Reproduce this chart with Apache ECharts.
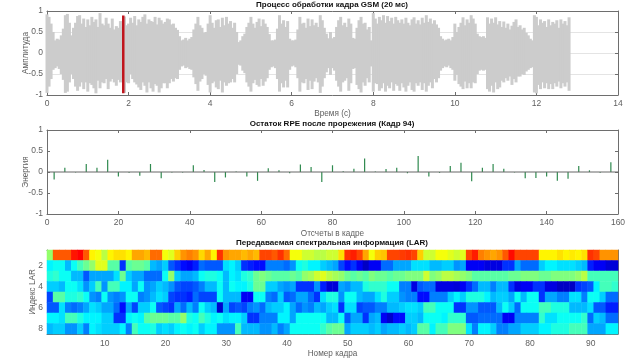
<!DOCTYPE html>
<html>
<head>
<meta charset="utf-8">
<title>GSM</title>
<script src="https://cdn.jsdelivr.net/npm/echarts@6/dist/echarts.min.js"></script>
<style>
html, body { margin: 0; padding: 0; background: #fff; }
#main { width: 640px; height: 360px; }
</style>
</head>
<body>
<div id="main"></div>
<script>
// speech envelope, one reading per 0.05 s
var envStep = 0.05;
var envUpper = [
    0.92,0.86,0.7,0.5,0.3,0.34,0.32,0.42,0.58,0.9,0.93,0.72,0.42,0.6,0.72,0.88,0.9,0.7,0.82,0.62,
    0.8,0.66,0.86,0.74,0.8,0.62,0.95,0.7,0.66,0.84,0.7,0.6,0.82,0.56,0.64,0.6,0.76,0.62,0.87,0.66,
    0.7,0.84,0.72,0.88,0.66,0.8,0.74,0.86,0.92,0.7,0.8,0.76,0.74,0.86,0.68,0.84,0.78,0.7,0.74,0.82,
    0.8,0.68,0.7,0.6,0.55,0.4,0.3,0.32,0.36,0.3,0.34,0.38,0.56,0.7,0.86,0.66,0.6,0.48,0.5,0.7,
    0.9,0.72,0.6,0.78,0.8,0.62,0.84,0.66,0.86,0.7,0.76,0.6,0.72,0.5,0.26,0.3,0.4,0.46,0.62,0.72,
    0.86,0.7,0.6,0.74,0.82,0.64,0.8,0.7,0.62,0.45,0.3,0.3,0.32,0.58,0.9,0.7,0.78,0.62,0.76,0.34,
    0.3,0.3,0.32,0.56,0.86,0.7,0.72,0.6,0.82,0.64,0.8,0.66,0.72,0.62,0.9,0.78,0.6,0.46,0.35,0.5,
    0.35,0.38,0.62,0.78,0.86,0.66,0.72,0.62,0.82,0.7,0.36,0.34,0.6,0.78,0.86,0.7,0.72,0.56,0.62,0.3,
    0.95,0.82,0.7,0.86,0.78,0.9,0.72,0.88,0.76,0.84,0.7,0.86,0.78,0.72,0.8,0.7,0.84,0.72,0.66,0.8,
    0.85,0.7,0.78,0.68,0.84,0.72,0.9,0.74,0.82,0.7,0.78,0.68,0.6,0.4,0.34,0.3,0.32,0.34,0.3,0.38,
    0.7,0.5,0.62,0.72,0.85,0.66,0.8,0.72,0.9,0.82,0.7,0.46,0.4,0.38,0.4,0.36,0.85,0.7,0.82,0.72,
    0.85,0.68,0.76,0.62,0.75,0.6,0.7,0.56,0.65,0.74,0.8,0.62,0.66,0.56,0.6,0.48,0.42,0.34,0.3,0.9,
    0.86,0.66,0.8,0.72,0.76,0.62,0.8,0.66,0.74,0.7,0.78,0.6,0.8,0.7,0.76,0.66,0.85
];
var envLower = [
    -0.95,-0.8,-0.62,-0.4,-0.36,-0.32,-0.38,-0.5,-0.64,-0.95,-0.92,-0.7,-0.5,-0.62,-0.8,-0.9,-0.8,-0.7,-0.86,-0.7,
    -0.92,-0.72,-0.76,-0.84,-0.96,-0.66,-0.84,-0.7,-0.72,-0.62,-0.86,-0.68,-0.62,-0.7,-0.78,-0.64,-0.7,-0.6,-0.95,-0.7,
    -0.72,-0.5,-0.62,-0.7,-0.75,-0.82,-0.88,-0.7,-0.78,-0.94,-0.7,-0.84,-0.92,-0.74,-0.78,-0.94,-0.84,-0.72,-0.72,-0.84,
    -0.72,-0.62,-0.68,-0.6,-0.62,-0.4,-0.32,-0.3,-0.36,-0.34,-0.38,-0.4,-0.58,-0.74,-0.9,-0.68,-0.62,-0.5,-0.54,-0.76,
    -0.94,-0.72,-0.68,-0.82,-0.86,-0.66,-0.94,-0.7,-0.78,-0.72,-0.7,-0.62,-0.7,-0.5,-0.28,-0.3,-0.42,-0.48,-0.7,-0.8,
    -0.92,-0.72,-0.64,-0.76,-0.8,-0.62,-0.78,-0.68,-0.6,-0.4,-0.34,-0.32,-0.36,-0.62,-0.92,-0.72,-0.82,-0.66,-0.82,-0.4,
    -0.32,-0.3,-0.34,-0.6,-0.92,-0.7,-0.72,-0.62,-0.88,-0.66,-0.86,-0.68,-0.6,-0.7,-0.95,-0.8,-0.6,-0.46,-0.36,-0.52,
    -0.36,-0.42,-0.66,-0.8,-0.92,-0.7,-0.66,-0.6,-0.9,-0.72,-0.38,-0.36,-0.76,-0.86,-0.94,-0.7,-0.78,-0.6,-0.7,-0.32,
    -0.92,-0.72,-0.74,-0.9,-0.84,-0.72,-0.92,-0.78,-0.84,-0.7,-0.9,-0.74,-0.78,-0.9,-0.72,-0.82,-0.92,-0.78,-0.7,-0.88,
    -0.92,-0.72,-0.78,-0.7,-0.88,-0.72,-0.92,-0.78,-0.7,-0.84,-0.62,-0.7,-0.6,-0.42,-0.36,-0.32,-0.34,-0.3,-0.36,-0.4,
    -0.66,-0.52,-0.74,-0.8,-0.86,-0.68,-0.84,-0.72,-0.84,-0.7,-0.72,-0.5,-0.42,-0.4,-0.42,-0.4,-0.86,-0.92,-0.78,-0.94,
    -0.7,-0.86,-0.82,-0.66,-0.7,-0.6,-0.66,-0.56,-0.76,-0.62,-0.7,-0.56,-0.56,-0.5,-0.52,-0.44,-0.4,-0.36,-0.34,-0.94,
    -0.96,-0.76,-0.86,-0.7,-0.84,-0.72,-0.86,-0.74,-0.86,-0.72,-0.8,-0.68,-0.84,-0.72,-0.8,-0.7,-0.9
];

// current frame marker
var frameX = [1.87, 1.87];
var frameY = [-0.96, 0.89];

// RPE pulses
var rpePos = [2,5,8,11,14,17,20,23,26,29,32,35,38,41,44,47,50,53,56,59,62,65,68,71,74,77,80,83,86,89,92,95,98,101,104,107,110,113,116,119,122,125,128,131,134,137,140,143,146,149,152,155,158];
var rpeVal = [-0.18,0.1,-0.01,0.19,0.1,0.29,-0.11,-0.02,-0.09,0.19,-0.15,-0.01,-0.01,0.16,0.05,-0.24,-0.13,0.01,-0.11,-0.21,0.09,0.04,-0.03,0.18,0.12,-0.24,0.16,0.02,0.08,0.32,0.01,0.07,0.1,-0.03,0.38,-0.11,-0.02,0.14,0.22,-0.22,0.1,0.19,0.08,-0.01,-0.15,-0.14,-0.11,-0.21,-0.16,0.14,0.04,-0.02,0.23];

// LAR rows, 94 frames each, on a 0-100 colour scale
var lar1 = [50,78,78,78,85,87,78,62,60,54,62,64,64,62,70,70,68,76,76,60,58,66,72,74,72,65,70,62,82,72,70,70,68,70,68,80,80,78,82,76,60,60,56,56,54,54,56,56,64,82,84,80,70,60,66,67,80,80,81,82,80,66,56,56,60,60,58,56,58,80,84,74,72,70,72,78,86,80,80,80,80,62,62,62,64,62,63,62,64,82,80,72,72,72];
var lar2 = [34,36,36,28,36,42,46,50,58,58,44,44,14,44,46,46,44,28,26,30,18,14,10,8,12,20,18,18,18,32,34,30,14,12,10,10,22,22,22,20,24,36,38,34,34,30,28,26,16,10,14,8,3,8,8,20,20,26,26,26,32,32,32,28,28,30,30,24,26,8,8,8,6,6,6,14,14,26,20,20,20,30,34,34,32,32,32,30,28,12,8,8,5,5];
var lar3 = [38,40,36,36,28,28,18,26,26,26,26,32,46,30,26,26,20,20,20,36,50,30,26,26,28,36,38,38,36,28,34,32,38,40,46,48,46,44,44,44,46,44,50,52,56,58,54,52,50,46,44,46,44,48,46,46,44,46,46,48,48,48,56,48,50,54,54,52,50,48,44,44,44,44,44,44,46,46,48,48,48,46,46,48,48,48,48,50,54,42,42,42,42,42];
var lar4 = [30,30,28,36,36,32,24,30,42,24,42,42,34,34,26,36,24,26,30,28,24,18,16,16,18,22,28,28,36,28,36,34,34,38,46,46,30,30,26,24,26,14,14,14,24,12,5,5,26,24,28,28,38,40,40,40,36,36,22,22,6,18,20,20,6,6,6,5,8,14,20,28,28,22,28,28,14,6,8,8,14,14,6,6,3,3,3,14,16,18,34,42,42,40];
var lar5 = [16,44,44,38,38,40,36,24,22,36,24,22,24,36,36,22,24,28,32,30,16,14,14,12,20,16,16,16,36,28,28,28,8,8,36,36,22,20,30,18,20,26,26,20,14,32,38,38,24,36,36,28,26,26,32,38,30,30,24,22,22,10,10,22,22,22,30,34,30,38,38,38,34,28,30,30,26,36,28,36,36,14,26,26,22,22,32,32,22,36,36,30,20,20];
var lar6 = [18,18,32,22,20,22,26,32,30,26,26,20,10,26,16,30,30,36,18,16,14,26,20,28,22,36,30,28,4,26,16,18,16,22,24,20,28,30,30,34,26,20,24,22,28,26,30,32,14,32,32,16,18,18,22,22,28,28,30,32,32,30,42,42,36,36,36,14,14,24,24,18,18,18,28,36,30,20,36,36,36,42,42,38,38,38,28,28,28,32,18,18,12,12];
var lar7 = [34,34,32,42,42,38,34,34,34,30,30,14,14,34,36,34,44,46,46,46,44,44,50,38,36,42,38,34,36,32,34,34,30,14,14,22,22,22,34,34,26,36,36,36,36,36,28,28,36,18,26,26,14,26,28,8,4,10,10,30,30,28,36,36,36,34,40,40,40,18,18,20,20,20,20,8,8,22,22,22,22,40,32,32,36,36,36,36,40,20,30,28,20,20];
var lar8 = [28,30,30,24,24,30,22,34,32,30,30,30,34,22,42,36,36,38,30,32,30,34,36,34,36,30,34,34,24,24,24,42,28,28,28,24,24,28,22,26,36,36,36,36,36,40,44,46,46,26,30,30,30,28,30,26,28,28,30,28,30,44,44,34,42,42,48,48,48,32,22,34,34,30,22,22,26,26,30,30,30,34,34,38,38,38,42,42,42,26,26,26,34,34];

var larRows = [lar1, lar2, lar3, lar4, lar5, lar6, lar7, lar8];
var larFrames = [];
for (var i = 1; i <= 94; i++) larFrames.push(String(i));
var larIndex = ["1", "2", "3", "4", "5", "6", "7", "8"];

var titleText = ["Процесс обработки кадра GSM (20 мс)", "Остаток RPE после прорежения (Кадр 94)", "Передаваемая спектральная информация (LAR)"];
var xNames = ["Время (с)", "Отсчеты в кадре", "Номер кадра"];
var yNames = ["Амплитуда", "Энергия", "Индекс LAR"];

var fontName = "Liberation Sans";
var axisGray = "#6e6e6e";
var textGray = "#5f5f5f";

function pairs(xs, ys) {
    var out = [];
    for (var i = 0; i < xs.length; i++) out.push([xs[i], ys[i]]);
    return out;
}

function envData(arr) {
    var out = [];
    for (var i = 0; i < arr.length; i++) out.push([i * envStep, arr[i]]);
    return out;
}

var heatData = [];
larRows.forEach(function(row, r) {
    row.forEach(function(v, c) {
        heatData.push([c, r, v]);
    });
});

function boxLine() {
    return { show: true, lineStyle: { color: axisGray, width: 1 } };
}

function nameStyle() {
    return { color: textGray, fontSize: 8.2, fontFamily: fontName };
}

function labelStyle(show) {
    return { show: show, color: textGray, fontSize: 8.5, fontFamily: fontName, margin: 4 };
}

function valueX(idx, min, max, interval, name, top, gap) {
    return {
        gridIndex: idx, type: "value", min: min, max: max, interval: interval,
        position: top ? "top" : "bottom",
        name: top ? "" : name, nameLocation: "middle", nameGap: gap, nameMoveOverlap: false,
        nameTextStyle: nameStyle(),
        axisLine: Object.assign(boxLine(), { onZero: false }),
        axisTick: { show: true, inside: true, length: 3, lineStyle: { color: axisGray } },
        axisLabel: labelStyle(!top),
        splitLine: { show: false }
    };
}

function valueY(idx, name, right, grid) {
    return {
        gridIndex: idx, type: "value", min: -1, max: 1, interval: 0.5,
        position: right ? "right" : "left",
        name: right ? "" : name, nameLocation: "middle", nameGap: 17, nameMoveOverlap: false,
        nameTextStyle: nameStyle(),
        axisLine: Object.assign(boxLine(), { onZero: false }),
        axisTick: { show: true, inside: true, length: 3, lineStyle: { color: axisGray } },
        axisLabel: labelStyle(!right),
        splitLine: { show: !!grid, lineStyle: { color: "#e4e4e4", width: 1 } }
    };
}

function everyTen(i, v) { return Number(v) % 10 == 0; }
function everyTwo(i, v) { return Number(v) % 2 == 0; }

function heatX(top) {
    return {
        gridIndex: 2, type: "category", data: larFrames,
        position: top ? "top" : "bottom",
        name: top ? "" : xNames[2], nameLocation: "middle", nameGap: 16, nameMoveOverlap: false,
        nameTextStyle: nameStyle(),
        axisLine: boxLine(),
        axisTick: { show: true, inside: true, length: 3, alignWithLabel: true, lineStyle: { color: axisGray }, interval: everyTen },
        axisLabel: Object.assign(labelStyle(!top), { interval: everyTen, margin: 5 }),
        splitLine: { show: false }
    };
}

function heatY(right) {
    return {
        gridIndex: 2, type: "category", data: larIndex, inverse: true,
        position: right ? "right" : "left",
        name: right ? "" : yNames[2], nameLocation: "middle", nameGap: 10, nameMoveOverlap: false,
        nameTextStyle: nameStyle(),
        axisLine: boxLine(),
        axisTick: { show: true, inside: true, length: 3, alignWithLabel: true, lineStyle: { color: axisGray }, interval: everyTwo },
        axisLabel: Object.assign(labelStyle(!right), { interval: everyTwo }),
        splitLine: { show: false }
    };
}

function titleAt(text, top) {
    return {
        text: text, left: 332, top: top, textAlign: "center", padding: 0,
        textStyle: { color: "#111", fontSize: 8, fontWeight: "bold", fontFamily: fontName }
    };
}

function envBars(arr) {
    return {
        type: "bar", xAxisIndex: 0, yAxisIndex: 0, data: envData(arr), barWidth: 3, barGap: "-100%",
        itemStyle: { color: "#cccccc" }
    };
}

var chart = echarts.init(document.getElementById("main"), null, { renderer: "canvas" });
var option = {
    animation: false,
    backgroundColor: "#fff",
    title: [titleAt(titleText[0], 1), titleAt(titleText[1], 120), titleAt(titleText[2], 239)],
    grid: [
        { left: 47, width: 571, top: 11, height: 84 },
        { left: 47, width: 571, top: 130, height: 84 },
        { left: 47, width: 571, top: 250, height: 84 }
    ],
    xAxis: [
        valueX(0, 0, 14, 2, xNames[0], false, 15),
        valueX(0, 0, 14, 2, "", true, 15),
        valueX(1, 0, 160, 20, xNames[1], false, 16),
        valueX(1, 0, 160, 20, "", true, 16),
        heatX(false),
        heatX(true)
    ],
    yAxis: [
        valueY(0, yNames[0], false, true),
        valueY(0, "", true, false),
        valueY(1, yNames[1], false, false),
        valueY(1, "", true, false),
        heatY(false),
        heatY(true)
    ],
    visualMap: {
        show: false, min: -4, max: 100, seriesIndex: 5,
        inRange: { color: ["#00007f", "#0000ff", "#007fff", "#00ffff", "#7fff7f", "#ffff00", "#ff7f00", "#ff0000", "#7f0000"] }
    },
    series: [
        envBars(envUpper),
        envBars(envLower),
        { type: "line", xAxisIndex: 0, yAxisIndex: 0, data: pairs(frameX, frameY), showSymbol: false, z: 5,
            lineStyle: { color: "#c0141c", width: 2.5 } },
        { type: "bar", xAxisIndex: 2, yAxisIndex: 2, data: pairs(rpePos, rpeVal), barWidth: 1.2,
            itemStyle: { color: "#2f8a4f" } },
        { type: "line", xAxisIndex: 2, yAxisIndex: 2, data: [[0, 0], [160, 0]], showSymbol: false,
            lineStyle: { color: "#666", width: 1 } },
        { type: "heatmap", xAxisIndex: 4, yAxisIndex: 4, data: heatData, progressive: 0 }
    ]
};
chart.setOption(option);
</script>
</body>
</html>
